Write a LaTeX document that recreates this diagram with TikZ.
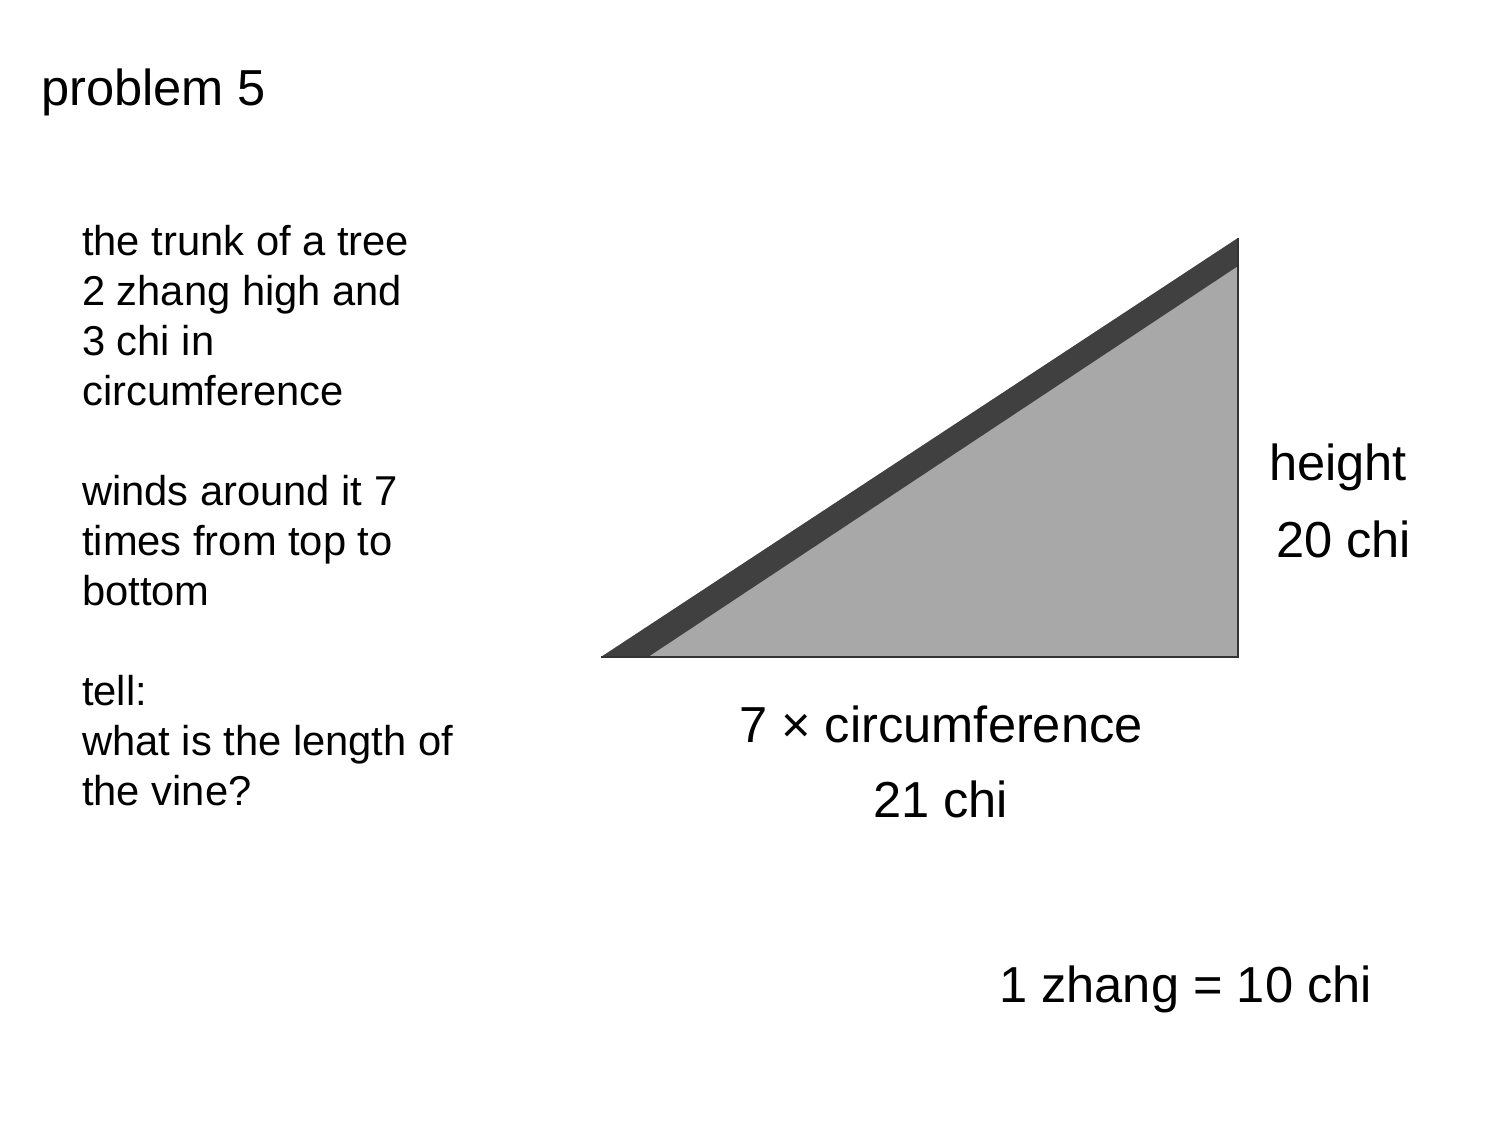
\documentclass[tikz,border=0pt]{standalone}
\usepackage{fontspec}
\setmainfont{Liberation Sans}
\begin{document}
\begin{tikzpicture}[x=1pt,y=-1pt,
  big/.style={anchor=base west,inner sep=0pt,font=\fontsize{50.6}{60}\selectfont},
  body/.style={anchor=base west,inner sep=0pt,font=\fontsize{41.7}{50}\selectfont},
  edge/.style={draw=black!80,line width=2.5pt}]
\useasboundingbox (0,0) rectangle (1500,1125);
\coordinate (A) at (601,657);
\coordinate (B) at (1238,238);
\coordinate (C) at (1238,657);
\coordinate (B2) at (1238,266);
\coordinate (A2) at (648,657);
\fill[black!34] (A) -- (B) -- (C) -- cycle;
\fill[black!75] (A) -- (B) -- (B2) -- (A2) -- cycle;
\draw[edge] (A) -- (C) -- (B);
\node[big] (title) at (41,105) {problem 5};
\node[body] (l1) at (82,255) {the trunk of a tree};
\node[body] (l2) at (82,305) {2 zhang high and};
\node[body] (l3) at (82,355) {3 chi in};
\node[body] (l4) at (82,405) {circumference};
\node[body] (l5) at (82,505) {winds around it 7};
\node[body] (l6) at (82,555) {times from top to};
\node[body] (l7) at (82,605) {bottom};
\node[body] (l8) at (82,705) {tell:};
\node[body] (l9) at (82,755) {what is the length of};
\node[body] (l10) at (82,805) {the vine?};
\node[big] (h1) at (1269,480) {height};
\node[big] (h2) at (1276,557) {20 chi};
\node[big] (b1) at (739,742) {7 × circumference};
\node[big] (b2) at (873,817) {21 chi};
\node[big] (u) at (999,1002) {1 zhang = 10 chi};
\end{tikzpicture}
\end{document}
